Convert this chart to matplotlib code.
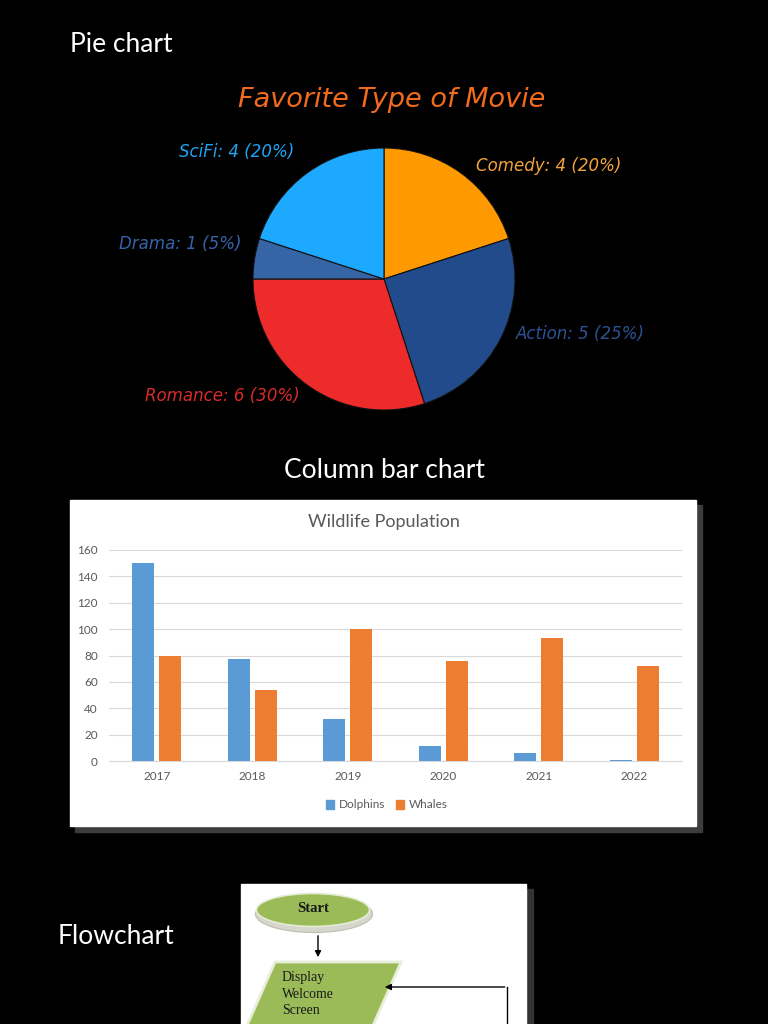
import numpy as np
import matplotlib.pyplot as plt
from matplotlib.patches import Rectangle, Ellipse, Polygon, Patch

# pie data
movie_types = ['Comedy', 'Action', 'Romance', 'Drama', 'SciFi']
movie_votes = [4, 5, 6, 1, 4]
wedge_colors = ['#FF9900', '#224B8B', '#EE2B2B', '#3565A5', '#1CA9FF']
label_colors = ['#F2A33A', '#2C5395', '#DA2A2A', '#3763A8', '#1FA3F0']

# column chart data
years = ['2017', '2018', '2019', '2020', '2021', '2022']
dolphins = [150, 77, 32, 11, 6, 1]
whales = [80, 54, 100, 76, 93, 72]

W, H = 768, 1024
fig = plt.figure(figsize=(W / 100, H / 100), dpi=100, facecolor='black')

# full-figure pixel canvas for headings, panels and the flowchart
bg = fig.add_axes([0, 0, 1, 1], zorder=0)
bg.set_xlim(0, W)
bg.set_ylim(H, 0)
bg.axis('off')

head = dict(color='white', fontsize=19, family='Lato')
bg.text(70, 45, 'Pie chart', ha='left', va='center', **head)
bg.text(384, 471, 'Column bar chart', ha='center', va='center', **head)
bg.text(58, 936, 'Flowchart', ha='left', va='center', **head)

# ---- pie ----
cx, cy, r = 384, 279, 131
pax = fig.add_axes([(cx - r) / W, 1 - (cy + r) / H, 2 * r / W, 2 * r / H], zorder=2)
pax.pie(movie_votes, colors=wedge_colors, startangle=90, counterclock=False,
        wedgeprops=dict(edgecolor='#111111', linewidth=0.8))
pax.set_xlim(-1, 1)
pax.set_ylim(-1, 1)
pax.set_aspect('equal')

comic = dict(family='DejaVu Sans', style='oblique', fontsize=12)
bg.text(392, 100, 'Favorite Type of Movie', ha='center', va='center',
        color='#F26B1D', family='DejaVu Sans', style='oblique', fontsize=19.5)
label_pos = [(549, 166), (580, 334), (222, 396), (180, 244), (237, 152)]
total = sum(movie_votes)
for name, v, c, (lx, ly) in zip(movie_types, movie_votes, label_colors, label_pos):
    bg.text(lx, ly, f'{name}: {v} ({v / total * 100:.0f}%)', ha='center',
            va='center', color=c, **comic)

# ---- column bar chart ----
bg.add_patch(Rectangle((75, 505), 627, 327, color='#3c3c3c', zorder=1))
bg.add_patch(Rectangle((70, 500), 626, 326, color='white', zorder=2))
bg.text(384, 522, 'Wildlife Population', ha='center', va='center',
        color='#595959', family='Lato', fontsize=13)

bax = fig.add_axes([109 / W, 1 - 761 / H, (682 - 109) / W, (761 - 550) / H], zorder=1)
bax.set_facecolor('none')
x = np.arange(len(years))
bax.bar(x - 0.14, dolphins, 0.23, color='#5B9BD5', zorder=3)
bax.bar(x + 0.14, whales, 0.23, color='#ED7D31', zorder=3)
bax.set_xlim(-0.5, len(years) - 0.5)
bax.set_ylim(0, 160)
bax.set_yticks(range(0, 161, 20))
bax.set_xticks(x)
bax.set_xticklabels(years)
bax.grid(axis='y', color='#D9D9D9', linewidth=0.8, zorder=0)
for s in ['top', 'right', 'left']:
    bax.spines[s].set_visible(False)
bax.spines['bottom'].set_color('#D9D9D9')
bax.tick_params(length=0, labelcolor='#595959', labelsize=8.5)
bax.tick_params(axis='y', pad=8)
bax.tick_params(axis='x', pad=7)
for t in bax.get_xticklabels() + bax.get_yticklabels():
    t.set_family('Lato')

handles = [Patch(color='#5B9BD5', label='Dolphins'), Patch(color='#ED7D31', label='Whales')]
fig.legend(handles=handles, loc='center', bbox_to_anchor=(387 / W, 1 - 805 / H), ncol=2,
           frameon=False, handlelength=0.7, handleheight=0.7, handletextpad=0.4,
           columnspacing=0.9, prop=dict(family='Lato', size=8.5), labelcolor='#595959')

# ---- flowchart (cut off at the bottom) ----
bg.add_patch(Rectangle((527, 889), 6, 140, color='#333333', zorder=1))
bg.add_patch(Rectangle((241, 884), 285, 145, color='white', zorder=2))
bg.add_patch(Ellipse((314, 914), 117, 37, facecolor='#d6d6cc', edgecolor='#bdbdb0',
                     linewidth=0.8, zorder=3))
bg.add_patch(Ellipse((313, 910), 113, 33, facecolor='#9BBB59', edgecolor='#e4ecd4',
                     linewidth=1.2, zorder=4))
bg.text(313, 908, 'Start', ha='center', va='center', family='Liberation Serif',
        fontsize=10.5, weight='bold', color='#1a1a1a', zorder=5)
bg.annotate('', xy=(318, 960), xytext=(318, 933),
            arrowprops=dict(arrowstyle='-|>', color='black', lw=1, mutation_scale=9), zorder=5)
bg.add_patch(Polygon([(275, 962), (401, 962), (371, 1030), (245, 1030)],
                     facecolor='#9BBB59', edgecolor='#e8eedc', linewidth=2, zorder=3))
for i, line in enumerate(['Display', 'Welcome', 'Screen']):
    bg.text(282, 978 + i * 16, line, ha='left', va='center', family='Liberation Serif',
            fontsize=10, color='#1a1a1a', zorder=5)
bg.plot([507, 507], [1030, 987], color='black', lw=1, zorder=5)
bg.annotate('', xy=(382, 987), xytext=(507.5, 987),
            arrowprops=dict(arrowstyle='-|>', color='black', lw=1, mutation_scale=9), zorder=5)

fig.savefig('out.png', dpi=100, facecolor='black')
